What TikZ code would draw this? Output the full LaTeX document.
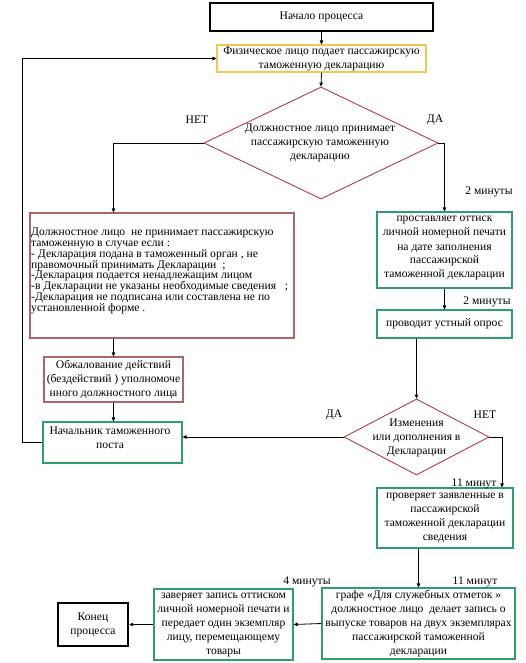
\documentclass[tikz,border=0pt]{standalone}
\usepackage{fontspec}
\setmainfont{Liberation Serif}
\usetikzlibrary{arrows.meta,shapes.geometric}
\definecolor{cyel}{HTML}{F0C850}
\definecolor{cgrn}{HTML}{2E9E6E}
\definecolor{cred}{HTML}{B02838}
\definecolor{cbrn}{HTML}{A86868}
\newcommand{\fs}{\fontsize{11.6}{14}\selectfont}
\begin{document}
\begin{tikzpicture}[x=1pt,y=-1pt,
  txt/.style={font=\fs,align=center,inner sep=0pt},
  box/.style={draw,line width=1.1pt,inner sep=0.5pt,align=center,font=\fs},
  term/.style={box,draw=black,line width=2.4pt},
  ybox/.style={box,draw=cyel},
  gbox/.style={box,draw=cgrn},
  bbox/.style={box,draw=cbrn},
  dia/.style={diamond,draw=cred,line width=0.8pt,inner sep=0pt},
  arr/.style={draw=black,line width=0.8pt,-{Triangle[length=4pt,width=3.5pt]}},
  lbl/.style={font=\fs,inner sep=0pt}
]
\useasboundingbox (0,0) rectangle (526,663);
\fill[white] (0,0) rectangle (526,663);

\node[term,minimum width=223pt,minimum height=28pt] (start) at (321.5,17) {Начало процесса};
\node[ybox,minimum width=209pt,minimum height=27pt] (phys) at (321.5,58.5) {Физическое лицо подает пассажирскую\\таможенную декларацию};
\node[dia,minimum width=234pt,minimum height=112pt] (d1) at (321,143) {};
\node[txt] (d1t) at (320,143) {Должностное лицо принимает\\пассажирскую таможенную\\декларацию};

\node[bbox,minimum width=264pt,minimum height=125pt] (nb) at (162,275.5) {};
\node[txt,align=left,anchor=west,font=\fontsize{11.6}{10.9}\selectfont] (nbt) at (31,271) {Должностное лицо\ \ не принимает пассажирскую\\таможенную в случае если :\\- Декларация подана в таможенный орган , не\\правомочный принимать Декларации\ \ ;\\-Декларация подается ненадлежащим лицом\\-в Декларации не указаны необходимые сведения\ \ \ ;\\-Декларация не подписана или составлена не по\\установленной форме .};

\node[bbox,minimum width=139pt,minimum height=45pt] (ab) at (113.5,379.5) {Обжалование действий\\(бездействий ) уполномоче\\нного должностного лица};
\node[gbox,minimum width=139pt,minimum height=41pt] (ch) at (112.5,442.5) {};
\node[txt] (cht) at (110,438) {Начальник таможенного\\поста};

\node[gbox,minimum width=135pt,minimum height=76pt] (r1) at (444.5,250) {};
\node[txt] (r1t) at (444.5,248.5) {проставляет оттиск\\личной номерной печати\\на дате заполнения\\пассажирской\\таможенной декларации};
\node[gbox,minimum width=135pt,minimum height=28pt] (r2) at (444.5,324) {проводит устный опрос};

\node[dia,minimum width=145pt,minimum height=76pt] (d2) at (416.5,437) {};
\node[txt] (d2t) at (416.5,438) {Изменения\\или дополнения в\\Декларации};

\node[gbox,minimum width=136pt,minimum height=60pt] (r3) at (445,518) {проверяет заявленные в\\пассажирской\\таможенной декларации\\сведения};
\node[gbox,minimum width=193pt,minimum height=71pt] (r4) at (418.5,623.5) {графе «Для служебных отметок\ »\\должностное лицо\ \ делает запись о\\выпуске товаров на двух экземплярах\\пассажирской таможенной\\декларации};
\node[gbox,minimum width=139pt,minimum height=71pt] (r5) at (223.5,624.5) {заверяет запись оттиском\\личной номерной печати и\\передает один экземпляр\\лицу, перемещающему\\товары};
\node[term,minimum width=70pt,minimum height=43pt] (end) at (93,624.5) {Конец\\процесса};

% labels
\node[lbl] (l1) at (197,120) {НЕТ};
\node[lbl] (l2) at (435,120) {ДА};
\node[lbl] (l3) at (489,192) {2 минуты};
\node[lbl] (l4) at (487,302) {2 минуты};
\node[lbl] (l5) at (334,415) {ДА};
\node[lbl] (l6) at (485,415) {НЕТ};
\node[lbl] (l7) at (474,484) {11 минут};
\node[lbl] (l8) at (475,582) {11 минут};
\node[lbl] (l9) at (307,582) {4 минуты};

% connectors
\draw[arr] (start.south) -- (phys.north);
\draw[arr] (phys.south) -- (d1.north);
\draw[arr] (d1.west) -| (ab.north |- nb.north);
\draw[arr] (ab.north |- nb.south) -- (ab.north);
\draw[arr] (ab.south) -- (ab.south |- ch.north);
\draw[arr] (ch.west) -- ++(-20,0) |- (phys.west);
\draw[arr] (d1.east) -| (r1.north);
\draw[arr] (r1.south) -- (r2.north);
\draw[arr] (d2.north |- r2.south) -- (d2.north);
\draw[arr] (d2.west) -- (d2.west -| ch.east);
\draw[arr] (d2.east) -| ([xshift=57pt]r3.north);
\draw[arr] (r4.north |- r3.south) -- (r4.north);
\draw[arr] (r4.west) -- (r5.east);
\draw[arr] (r5.west) -- (end.east);
\end{tikzpicture}
\end{document}
